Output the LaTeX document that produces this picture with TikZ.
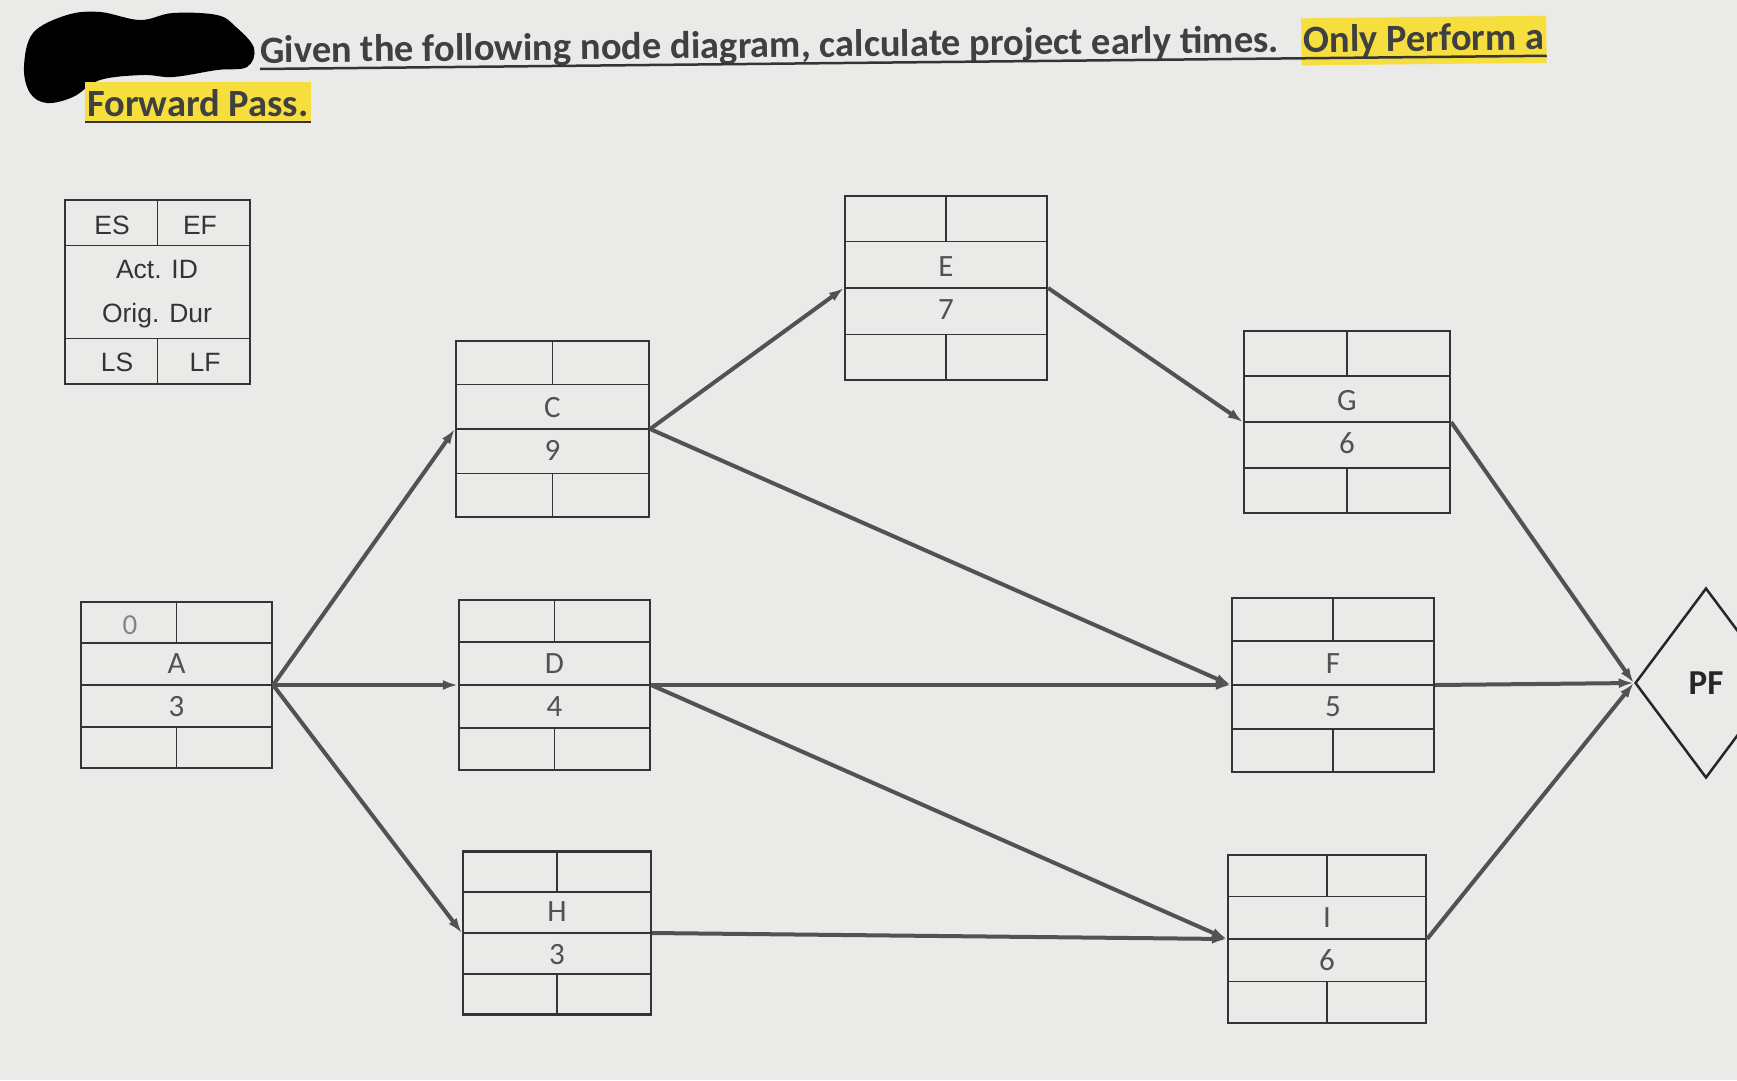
\documentclass[tikz,border=0pt]{standalone}
\usepackage{fontspec}
\setmainfont{Carlito}
\newfontfamily\legfont{Liberation Sans}
\usetikzlibrary{arrows.meta,shapes.geometric,calc}
\definecolor{paper}{RGB}{234,234,232}
\definecolor{ink}{RGB}{52,52,52}
\definecolor{hl}{RGB}{246,222,62}

\begin{document}
\begin{tikzpicture}[x=1pt,y=-1pt,
  box/.style={draw=ink, line width=2.2pt, inner sep=0pt, align=center, text=ink!85,
    font=\fontsize{31}{43}\selectfont},
  leg/.style={text=ink, font=\legfont\fontsize{26.5}{30}\selectfont},
  task/.style={draw=ink!85, line width=4pt, -{Latex[length=15pt,width=10pt]}},
  ques/.style={text=black!75, font=\bfseries\fontsize{38.5}{44}\selectfont,
    inner xsep=0pt, inner ysep=0pt, anchor=base west, rotate=0.6}]
\useasboundingbox (0,0) rectangle (1737,1080);
\fill[paper] (0,0) rectangle (1737,1080);

% name blotted out
\fill[black] plot[smooth cycle, tension=.6] coordinates {(67,15) (100,12) (140,20) (173,13) (217,15) (236,27) (254,48) (247,67) (217,70) (173,77) (143,75) (100,80) (73,97) (47,103) (30,93) (24,67) (33,33)};

% question
\node[ques] (Q1) at (260,63) {Given the following node diagram, calculate project early times.};
\node[ques, fill=hl, inner xsep=2pt, inner ysep=7pt] (Q2) at ([xshift=22pt]Q1.base east) {Only Perform a};
\node[ques, fill=hl, inner xsep=2pt, inner ysep=7pt, rotate=-0.6] (Q3) at (85,116) {Forward Pass.};
\draw[ink, line width=2.5pt] ([yshift=-6pt]Q1.base west) -- ([yshift=-6pt]Q2.base east);
\draw[ink, line width=2.5pt] ([yshift=-6pt]Q3.base west) -- ([yshift=-6pt]Q3.base east);

% legend
\node[box, minimum width=185, minimum height=184] (leg) at (157.5,292) {};
\node[leg] (leg-es) at (112,225) {ES};
\node[leg] (leg-ef) at (200,225) {EF};
\node[leg] (leg-id) at (157,270) {Act. ID};
\node[leg] (leg-dur) at (157,316) {Orig. Dur};
\node[leg] (leg-ls) at (117,362) {LS};
\node[leg] (leg-lf) at (205,362) {LF};

% activities
\node[box, minimum width=191, minimum height=166] (A) at (176.5,685) {A\\3};
\node[box, minimum width=193, minimum height=176] (C) at (552.5,429) {C\\9};
\node[box, minimum width=191, minimum height=170] (D) at (554.5,685) {D\\4};
\node[box, minimum width=188, minimum height=163] (H) at (557,933) {H\\3};
\node[box, minimum width=202, minimum height=184] (E) at (946,288) {E\\7};
\node[box, minimum width=206, minimum height=182] (G) at (1347,422) {G\\6};
\node[box, minimum width=202, minimum height=174] (F) at (1333,685) {F\\5};
\node[box, minimum width=198, minimum height=168] (I) at (1327,939) {I\\6};
\node[text=ink!60, font=\fontsize{29}{32}\selectfont] (A-es) at (130,625) {0};
\node[diamond, draw=black!85, line width=2.5pt, minimum width=142, minimum height=190,
  inner sep=0pt, font=\bfseries\fontsize{35}{40}\selectfont, text=black!85] (PF) at (1706,683) {PF};

% cells
\foreach \n in {leg,A,C,D,H,E,G,F,I}
  \draw[ink, line width=1.7pt]
    ($(\n.north west)!.25!(\n.south west)$) -- ($(\n.north east)!.25!(\n.south east)$)
    ($(\n.north west)!.75!(\n.south west)$) -- ($(\n.north east)!.75!(\n.south east)$)
    (\n.north) -- ($(\n.north)!.25!(\n.south)$)
    (\n.south) -- ($(\n.north)!.75!(\n.south)$);
\foreach \n in {A,C,D,H,E,G,F,I}
  \draw[ink, line width=1.7pt] (\n.west) -- (\n.east);

% links
\foreach \from/\to in
{A/C,A/D,A/H,C/E,C/F,E/G,D/F,D/I,H/I,G/PF,F/PF,I/PF}
\draw[task] (\from.east) -- (\to.west);
\end{tikzpicture}
\end{document}
